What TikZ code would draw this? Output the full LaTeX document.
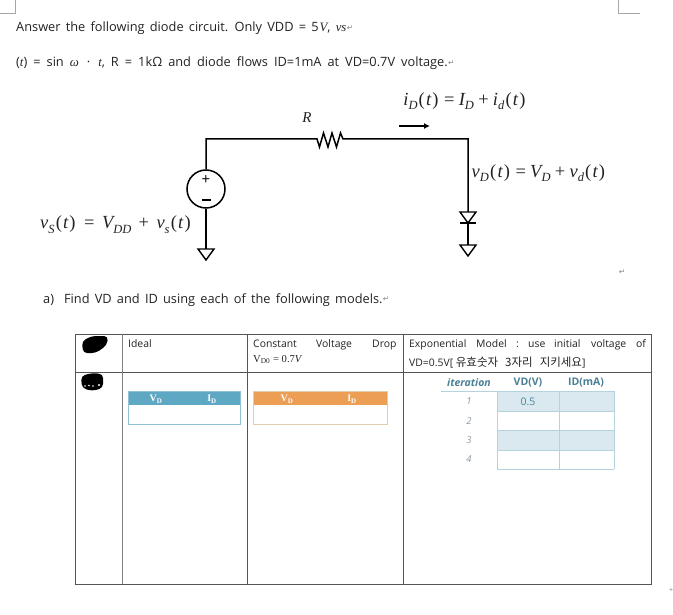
\documentclass[tikz,border=0pt]{standalone}
\usetikzlibrary{arrows.meta}
\usepackage{fontspec}
\setmainfont{Open Sans}
\newfontfamily\krfont{Noto Sans CJK KR}
\newfontfamily\symfont{DejaVu Sans}
\newfontfamily\serifit{Liberation Serif}
\newcommand\sbs[1]{\raisebox{-0.25em}{\fontsize{12.5}{12.5}\selectfont #1}}
\newcommand\up[1]{{\upshape\kern1.2pt #1\kern1.2pt}}
\newcommand\wsp{\spaceskip=5.2pt\relax}
\newcommand\wspb{\spaceskip=6pt\relax}
\definecolor{ink}{HTML}{222222}
\definecolor{grid}{HTML}{555555}
\definecolor{hblue}{HTML}{5FA8C4}
\definecolor{bordb}{HTML}{8FC0D4}
\definecolor{hor}{HTML}{EC9E55}
\definecolor{bordor}{HTML}{E3CDB0}
\definecolor{lblue}{HTML}{DAE9F0}
\definecolor{lline}{HTML}{B5D3DE}
\definecolor{tabtxt}{HTML}{4A7F96}
\definecolor{itertxt}{HTML}{8A9AA3}
\tikzset{
  x=1pt,y=-1pt,
  body/.style={inner sep=0pt,anchor=base west,text=ink,font=\fontsize{12.8}{15}\selectfont},
  cell/.style={inner sep=0pt,anchor=base west,text=ink,font=\fontsize{10.4}{13}\selectfont},
  eq/.style={inner sep=0pt,text=ink,font=\serifit\itshape\fontsize{18.5}{22}\selectfont},
  wire/.style={draw=black,line width=1.5pt},
  gnd/.style={draw=black,line width=1.4pt,line join=miter},
  retn/.style={inner sep=0pt,text=gray,font=\symfont\fontsize{7.5}{8}\selectfont},
  tline/.style={draw=grid,line width=0.8pt},
  hdr/.style={inner sep=0pt,text=white,font=\serifit\bfseries\fontsize{10}{12}\selectfont},
  itxt/.style={inner sep=0pt,text=itertxt,font=\itshape\fontsize{9.5}{11}\selectfont},
  thd/.style={inner sep=0pt,text=tabtxt,font=\bfseries\fontsize{10.5}{12}\selectfont},
  inline/.style={draw=lline,line width=0.6pt},
}
\begin{document}
\begin{tikzpicture}
\useasboundingbox (0,0) rectangle (673,615);
% page corners
\draw[draw=gray!70,line width=0.5pt] (0,13) -- (15,13) -- (15,0);
\draw[draw=gray!70,line width=0.5pt] (640,13) -- (618,13) -- (618,0);
% text
\node[body] (t1) at (16,32) {\wsp Answer the following diode circuit. Only VDD = 5\kern1pt{\serifit\itshape V}, {\serifit\itshape vs}};
\node[retn,anchor=west] (r1) at (t1.east) {↵};
\node[body] (t2) at (16,67) {\wspb({\serifit\itshape t}) = sin {\serifit\itshape ω} \kern2pt· \kern2pt{\serifit\itshape t}, R = 1kΩ and diode flows ID=1mA at VD=0.7V voltage.};
\node[retn,anchor=west] (r2) at (t2.east) {↵};
\node[eq] (id) at (465,101) {i\sbs{D}\up{(}t\up{)}\,\up{=}\,I\sbs{D}\,\up{+}\,i\sbs{d}\up{(}t\up{)}};
\node[inner sep=0pt,text=ink,font=\serifit\itshape\fontsize{15}{15}\selectfont] (Rl) at (307,118) {R};
\node[eq] (vd) at (539,173) {v\sbs{D}\up{(}t\up{)}\,\up{=}\,V\sbs{D}\,\up{+}\,v\sbs{d}\up{(}t\up{)}};
\node[eq] (vs) at (116,224.5) {v\sbs{S}\up{(}t\up{)}\,\,\up{=}\,\,V\sbs{DD}\,\,\up{+}\,\,v\sbs{s}\up{(}t\up{)}};
\node[body] (a) at (43,303) {\wsp a)\hspace{10pt}Find VD and ID using each of the following models.};
\node[retn,anchor=west] (r3) at (a.east) {↵};
\node[retn] (r4) at (622,272) {↵};
% circuit
\node[circle,draw=black,line width=1.5pt,minimum size=38pt,inner sep=0pt] (src) at (206,189) {};
\node[inner sep=0pt,font=\fontsize{15}{15}\selectfont] (plus) at (206,180.5) {+};
\draw[line width=1.1pt] (202,200) -- (211,200);
\coordinate (gA) at (206,249);
\coordinate (rL) at (317,139);
\coordinate (rR) at (343,139);
\coordinate (corner) at (468,139);
\coordinate (dT) at (468,212);
\coordinate (dK) at (468,223);
\coordinate (gB) at (468,245);
\draw[wire,line join=miter] (src.north) -- (206,139) -- (rL)
  -- (319.5,147) -- (323.5,133) -- (328,147) -- (332,133) -- (336.5,147) -- (340.5,133) -- (rR) -- (corner) -- (dT);
\draw[wire] (src.south) -- (gA);
\draw[gnd] (198,249) -- (214,249) -- (206,260) -- cycle;
\draw[gnd] (460,212) -- (476,212) -- (468,223) -- cycle;
\draw[wire] (460,223) -- (476,223);
\draw[wire] (dK) -- (gB);
\draw[gnd] (460,245) -- (476,245) -- (468,256) -- cycle;
\coordinate (arA) at (399,126);
\coordinate (arB) at (430,126);
\draw[line width=1.4pt,-{Latex[length=6pt,width=6pt]}] (arA) -- (arB);
% main table
\draw[tline] (75,334) rectangle (651,584);
\draw[tline] (75,372) -- (651,372);
\draw[tline,line width=1pt,draw=gray] (122,334) -- (122,584);
\draw[tline] (247,334) -- (247,584);
\draw[tline] (403,334) -- (403,584);
% scribbles
\fill[black,rounded corners=4pt] (82,341) -- (92,336) -- (108,336) -- (107,345) -- (96,353) -- (83,353) -- cycle;
\fill[black,rounded corners=4pt] (81,376) -- (92,373) -- (103,374) -- (103,388) -- (92,391) -- (82,388) -- cycle;
\fill[white] (85,386) circle (0.9) (89,385.5) circle (0.8) (93,386) circle (0.8) (99,385) circle (1.1);
% header cells
\node[cell] (c1) at (128,347) {Ideal};
\node[cell] (c2) at (253,347) {Constant};
\node[cell] (c2b) at (316,347) {Voltage};
\node[cell] (c2c) at (372,347) {Drop};
\node[inner sep=0pt,anchor=base west,text=ink,font=\serifit\fontsize{10.6}{13}\selectfont] (c3) at (253,362) {V\textsubscript{D0} = 0.7\textit{V}};
\node[cell] (e1) at (409,347) {Exponential};
\node[cell] (e2) at (476,347) {Model};
\node[cell] (e3) at (516,347) {:};
\node[cell] (e4) at (528,347) {use};
\node[cell] (e5) at (554,347) {initial};
\node[cell] (e6) at (591,347) {voltage};
\node[cell] (e7) at (636,347) {of};
\node[cell] (e8) at (409,366) {VD=0.5V[ {\krfont\fontsize{11.5}{13}\selectfont\spaceskip=7pt\relax 유효숫자 3자리 지키세요}]};
% small tables
\fill[hblue] (128,391) rectangle (240,405);
\draw[draw=bordb,line width=0.6pt] (128,391) rectangle (240,424);
\node[hdr] (v1) at (156,399) {V\textsubscript{D}};
\node[hdr] (i1) at (212,399) {I\textsubscript{D}};
\fill[hor] (253,391) rectangle (387,405);
\draw[draw=bordor,line width=0.6pt] (253,391) rectangle (387,424);
\node[hdr] (v2) at (287,399) {V\textsubscript{D}};
\node[hdr] (i2) at (352,399) {I\textsubscript{D}};
% iteration table
\fill[lblue] (497,391) rectangle (614,411);
\fill[lblue] (497,430.5) rectangle (614,450);
\draw[inline] (441,391) -- (614,391);
\draw[inline] (497,411) -- (614,411);
\draw[inline] (497,430.5) -- (614,430.5);
\draw[inline] (497,450) -- (614,450);
\draw[inline] (497,469) -- (614,469);
\draw[inline] (497,391) -- (497,469);
\draw[inline] (559,391) -- (559,469);
\draw[inline] (614,391) -- (614,469);
\node[thd,font=\bfseries\itshape\fontsize{10.5}{12}\selectfont] (h1) at (469,383) {iteration};
\node[thd] (h2) at (528,383) {VD(V)};
\node[thd] (h3) at (586,383) {ID(mA)};
\node[itxt] (n1) at (469,401) {1};
\node[itxt] (n2) at (469,421) {2};
\node[itxt] (n3) at (469,440) {3};
\node[itxt] (n4) at (469,459) {4};
\node[inner sep=0pt,text=tabtxt,font=\fontsize{10.5}{12}\selectfont] (v05) at (528,402) {0.5};
\node[inner sep=0pt,text=gray,font=\fontsize{7}{7}\selectfont] (pl) at (671,590) {+};
\end{tikzpicture}
\end{document}
